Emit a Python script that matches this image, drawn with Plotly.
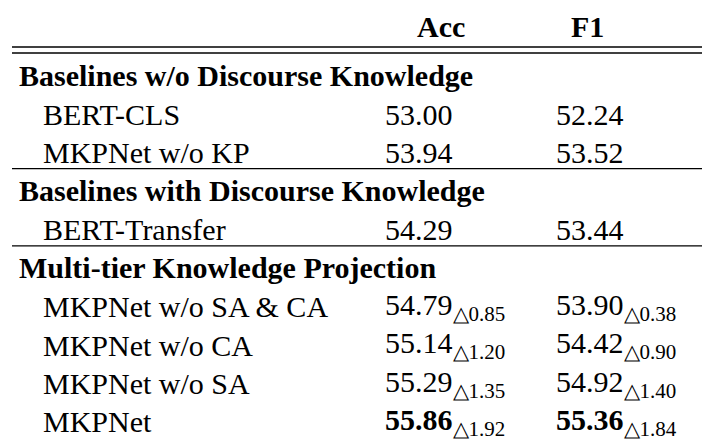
import plotly.graph_objects as go

# table content
sections = ["Baselines w/o Discourse Knowledge",
            "Baselines with Discourse Knowledge",
            "Multi-tier Knowledge Projection"]
models = [["BERT-CLS", "MKPNet w/o KP"],
          ["BERT-Transfer"],
          ["MKPNet w/o SA & CA", "MKPNet w/o CA", "MKPNet w/o SA", "MKPNet"]]
acc = [["53.00", "53.94"], ["54.29"], ["54.79", "55.14", "55.29", "55.86"]]
f1 = [["52.24", "53.52"], ["53.44"], ["53.90", "54.42", "54.92", "55.36"]]
acc_delta = [[None, None], [None], ["0.85", "1.20", "1.35", "1.92"]]
f1_delta = [[None, None], [None], ["0.38", "0.90", "1.40", "1.84"]]
best = "MKPNet"

FONT = "Liberation Serif"
W, H = 710, 443

fig = go.Figure()
ann = []
shapes = []

def text(x, y, s, anchor="left", size=30):
    ann.append(dict(x=x, y=y, text=s, showarrow=False, xanchor=anchor,
                    yanchor="middle", borderpad=0,
                    font=dict(family=FONT, size=size, color="black")))

def hline(y, w=1.3):
    shapes.append(dict(type="line", x0=4, x1=W - 4, y0=y, y1=y,
                       line=dict(color="black", width=w)))

def cell(v, d, bold):
    s = f"<b>{v}</b>" if bold else v
    if d:
        s += f"<sub>△{d}</sub>"
    return s

text(433, 18, "<b>Acc</b>", "center")
text(579, 18, "<b>F1</b>", "center")
hline(39)
hline(45)

y = 67
for i, sec in enumerate(sections):
    if i > 0:
        hline(y - 22)
    text(10, y, f"<b>{sec}</b>")
    y += 39
    for j, m in enumerate(models[i]):
        b = m == best
        text(34, y, m)
        text(376, y, cell(acc[i][j], acc_delta[i][j], b))
        text(547, y, cell(f1[i][j], f1_delta[i][j], b))
        y += 38.3
hline(439)

fig.update_layout(
    width=W, height=H, margin=dict(l=0, r=0, t=0, b=0),
    paper_bgcolor="white", plot_bgcolor="white",
    xaxis=dict(range=[0, W], visible=False, fixedrange=True),
    yaxis=dict(range=[H, 0], visible=False, fixedrange=True),
    annotations=ann, shapes=shapes, showlegend=False,
)
fig.write_html("out.html")
